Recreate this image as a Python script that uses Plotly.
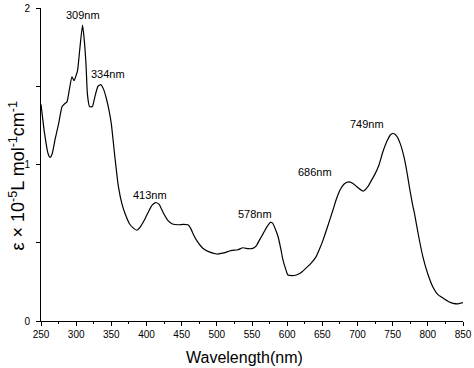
import plotly.graph_objects as go

wavelength = [250, 255, 260, 263, 266, 270, 275, 280, 284, 287, 290, 294, 297, 300, 302, 305, 309, 311,
              314, 316, 319, 323, 327, 331, 335, 339, 343, 347, 350, 355, 360, 365, 370, 376, 381, 386,
              391, 397, 403, 408, 413, 418, 424, 430, 437, 445, 452, 459, 463, 467, 472, 480, 490, 500,
              510, 520, 530, 537, 545, 551, 556, 561, 566, 571, 576, 579, 583, 587, 591, 594, 598, 601,
              607, 613, 620, 629, 635, 641, 646, 651, 658, 665, 670, 675, 681, 687, 693, 700, 708, 715,
              720, 725, 730, 736, 742, 747, 751, 756, 761, 766, 770, 774, 778, 781, 787, 793, 800, 807,
              814, 822, 829, 836, 843, 850]
epsilon = [1.385, 1.20, 1.07, 1.045, 1.07, 1.16, 1.26, 1.37, 1.39, 1.40, 1.47, 1.56, 1.535, 1.57, 1.60,
           1.73, 1.89, 1.82, 1.64, 1.45, 1.37, 1.37, 1.44, 1.50, 1.51, 1.48, 1.42, 1.34, 1.26, 1.05, 0.86,
           0.75, 0.68, 0.62, 0.595, 0.58, 0.60, 0.645, 0.70, 0.74, 0.757, 0.745, 0.69, 0.645, 0.62, 0.615,
           0.617, 0.615, 0.59, 0.55, 0.51, 0.465, 0.44, 0.428, 0.435, 0.45, 0.455, 0.468, 0.462, 0.464,
           0.48, 0.52, 0.56, 0.60, 0.63, 0.627, 0.59, 0.54, 0.46, 0.39, 0.33, 0.294, 0.29, 0.294, 0.31,
           0.347, 0.375, 0.41, 0.46, 0.517, 0.61, 0.708, 0.78, 0.836, 0.875, 0.889, 0.88, 0.855, 0.83,
           0.86, 0.90, 0.94, 0.99, 1.08, 1.15, 1.19, 1.198, 1.18, 1.13, 1.05, 0.96, 0.85, 0.75, 0.687,
           0.54, 0.41, 0.30, 0.219, 0.17, 0.145, 0.125, 0.113, 0.110, 0.117]

peak_labels = ["309nm", "334nm", "413nm", "578nm", "686nm", "749nm"]
peak_wavelengths = [309, 335, 413, 579, 687, 751]
x_tick_values = list(range(250, 851, 50))
y_tick_values = [0, 1, 2]
x_title = "Wavelength(nm)"
y_title = "ε × 10<sup>-5</sup>L mol<sup>-1</sup>cm<sup>-1</sup>"

FONT = "Liberation Sans, Arial, sans-serif"

fig = go.Figure()
fig.add_trace(go.Scatter(x=wavelength, y=epsilon, mode="lines",
                         line=dict(color="black", width=1.2, shape="spline", smoothing=0.5),
                         showlegend=False, hoverinfo="skip"))

label_shifts = [(0, 10), (7, 11), (-6, 8), (-17, 9), (-33, 10), (-26, 10)]
for lab, wl, (dx, dy) in zip(peak_labels, peak_wavelengths, label_shifts):
    yv = epsilon[wavelength.index(wl)]
    fig.add_annotation(x=wl, y=yv, text=lab, showarrow=False, xshift=dx, yshift=dy,
                       yanchor="middle", font=dict(size=11, color="black", family=FONT))

# axis titles placed as annotations to match reference positions
fig.add_annotation(xref="paper", yref="paper", x=0.483, y=0, yshift=-36, text=x_title,
                   showarrow=False, xanchor="center", yanchor="middle",
                   font=dict(size=16, color="black", family=FONT))
fig.add_annotation(xref="paper", yref="paper", x=0, xshift=-24, y=0.465, text=y_title,
                   showarrow=False, xanchor="center", yanchor="middle", textangle=-90,
                   font=dict(size=18, color="black", family=FONT))

fig.update_layout(
    width=474, height=368,
    margin=dict(l=41, r=11, t=8, b=47, autoexpand=False),
    paper_bgcolor="white", plot_bgcolor="white",
    font=dict(family=FONT, color="black"),
    xaxis=dict(range=[250, 850], tickvals=x_tick_values, ticks="outside", ticklen=4,
               tickwidth=1, tickcolor="black", showline=True, linecolor="black", linewidth=1,
               showgrid=False, zeroline=False, tickfont=dict(size=10), automargin=False,
               minor=dict(ticks="outside", ticklen=2, dtick=25, tickcolor="black", showgrid=False)),
    yaxis=dict(range=[0, 2], tickvals=y_tick_values, ticks="outside", ticklen=4,
               tickwidth=1, tickcolor="black", showline=True, linecolor="black", linewidth=1,
               showgrid=False, zeroline=False, tickfont=dict(size=10), automargin=False,
               ticklabelstandoff=4,
               minor=dict(ticks="outside", ticklen=4, dtick=0.5, tickcolor="black", showgrid=False)),
)

fig.write_html("out.html", config={"displayModeBar": False},
               post_script="document.body.style.margin='0';")
